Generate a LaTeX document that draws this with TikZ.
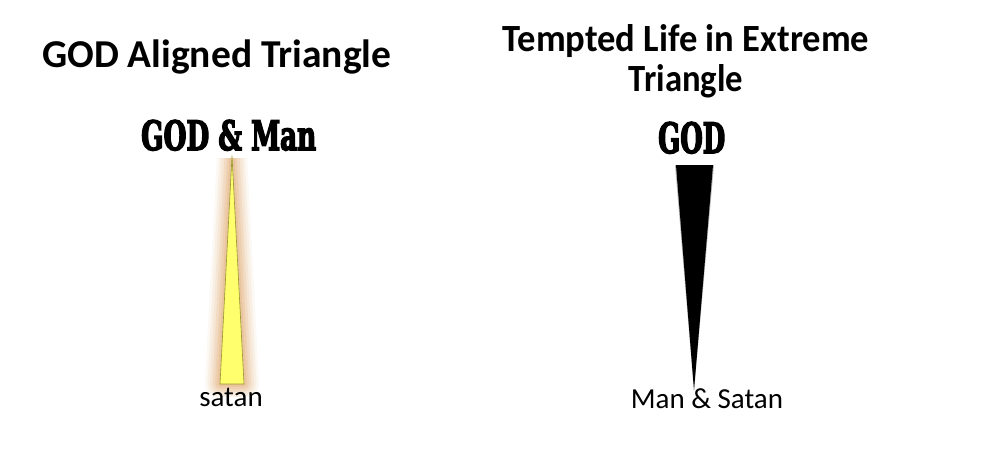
\documentclass[tikz,border=0pt]{standalone}
\usepackage{fontspec}
\usetikzlibrary{calc}
\setmainfont{Carlito}
\newfontfamily\displayfont[BoldFeatures={FakeBold=4}]{DejaVu Serif Condensed}
\definecolor{glow}{RGB}{226,170,112}
\definecolor{yfill}{RGB}{255,255,110}
\definecolor{yedge}{RGB}{150,150,50}
\tikzset{
  title/.style={font=\fontsize{39.5}{43}\selectfont\bfseries, inner sep=0pt, text=black},
  rtitle/.style={font=\fontsize{38.5}{43}\selectfont\bfseries, inner sep=0pt, text=black},
  label/.style={font=\fontsize{29}{32}\selectfont, inner sep=0pt, text=black},
  display/.style={font=\displayfont\bfseries, inner sep=0pt, text=black},
}
\begin{document}
\begin{tikzpicture}[x=1pt,y=-1pt]
\useasboundingbox (0,0) rectangle (988,466);
\fill[white] (0,0) rectangle (988,466);
% titles
\node[title, anchor=base west] (t1) at (42,67) {GOD Aligned Triangle};
\node[rtitle, anchor=base] (t2a) at (686,51) {\scalebox{0.95}[1]{Tempted Life in Extreme}};
\node[rtitle, anchor=base] (t2b) at (686,91) {\scalebox{0.9}[1]{Triangle}};
% display labels
\node[display, anchor=base west] (gm) at (141,150) {\resizebox{175pt}{30pt}{GOD \& Man}};
\node[display, anchor=base west] (g) at (658,153) {\resizebox{67pt}{31pt}{GOD}};
% left triangle with glow
\coordinate (la) at (232,156);
\coordinate (lb) at (220,384);
\coordinate (lc) at (244,384);
\begin{scope}
\clip (180,158) rectangle (285,396);
\foreach \w/\o in {30/0.08,25/0.1,20/0.13,15/0.17,10/0.22,5/0.3}{
  \draw[glow, line width=\w pt, line join=round, opacity=\o] (la) -- (lb) -- (lc) -- cycle;
}
\end{scope}
\fill[glow, opacity=0.5] (la) -- (lb) -- (lc) -- cycle;
\filldraw[fill=yfill, draw=yedge, line width=0.6pt, line join=round] (la) -- (lb) -- (lc) -- cycle;
% right triangle
\coordinate (ra) at (676,165);
\coordinate (rb) at (713,165);
\coordinate (rc) at (694,390);
\fill[black!55, opacity=0.5] ($(ra)+(-1,0)$) -- ($(rb)+(1,0)$) -- ($(rc)+(0,1)$) -- cycle;
\fill[black] (ra) -- (rb) -- (rc) -- cycle;
% bottom labels
\node[label, anchor=base] (s1) at (231,406) {satan};
\node[label, anchor=base] (s2) at (707,408) {Man \& Satan};
\end{tikzpicture}
\end{document}
